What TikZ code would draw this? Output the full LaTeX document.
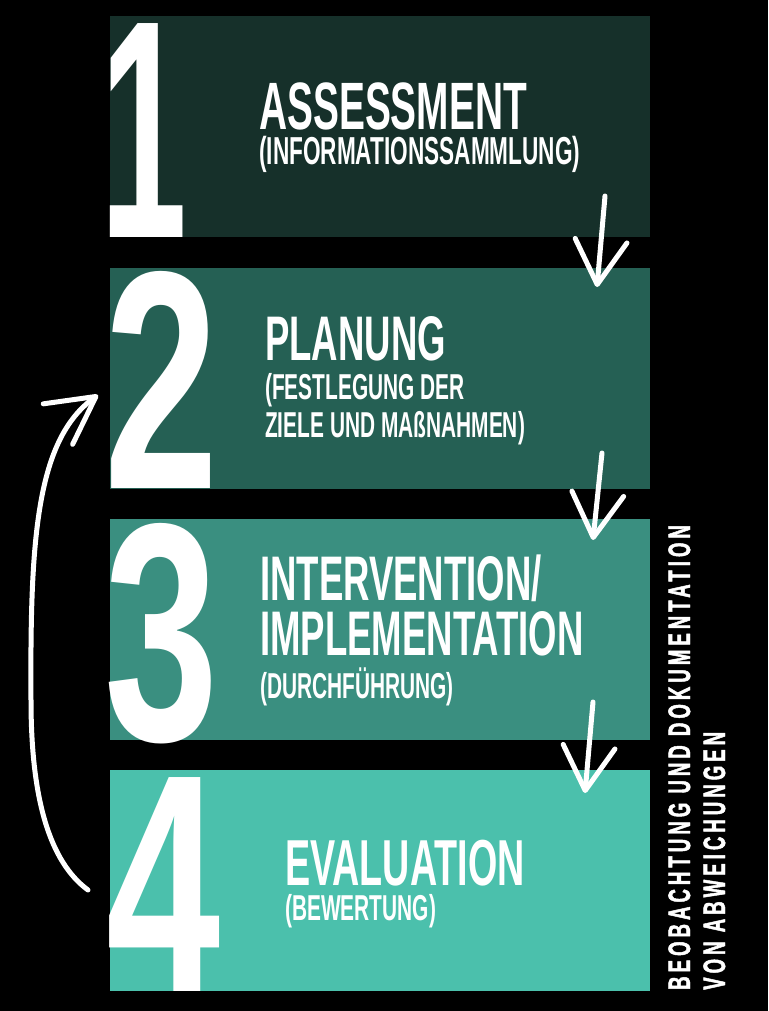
\documentclass[tikz,border=0pt]{standalone}
\usepackage{fontspec}
\usetikzlibrary{positioning, arrows.meta, calc}
\newfontfamily\headfont[FakeStretch=0.58]{Liberation Sans}
\newfontfamily\numfont[FakeStretch=0.66]{Liberation Sans}
\newfontfamily\sidefont[FakeStretch=0.6, LetterSpace=13, FakeBold=1.5]{Liberation Sans}
\definecolor{clrstep_one}{HTML}{16302A}
\definecolor{clrstep_two}{HTML}{256054}
\definecolor{clrstep_three}{HTML}{3A8F80}
\definecolor{clrstep_four}{HTML}{4BC0AC}
\definecolor{clrpaper}{HTML}{000000}
\definecolor{clrchalk}{HTML}{FFFFFF}

\begin{document}
\begin{tikzpicture}[
    x=1pt, y=-1pt,
    every node/.style={inner sep=0, text=clrchalk},
    block/.style={rectangle, minimum width=540pt, minimum height=221pt},
    bignum/.style={font=\numfont\bfseries\fontsize{311}{311}\selectfont, anchor=base west},
    headline/.style={font=\headfont\bfseries\fontsize{64}{64}\selectfont, anchor=base west},
    subline/.style={font=\headfont\bfseries\fontsize{36}{36}\selectfont, anchor=base west},
    sideline/.style={font=\sidefont\bfseries\fontsize{31}{31}\selectfont, anchor=base west, rotate=90},
    chalk/.style={draw=clrchalk, line width=5pt, line cap=round, line join=round},
    arrow/.style={chalk, -{Straight Barb[length=44pt, width=52pt, line cap=round, line join=round]}},
]
\fill[clrpaper] (0,0) rectangle (768,1011);
\useasboundingbox (0,0) rectangle (768,1011);
% steps
\node[block, fill=clrstep_one, anchor=north west] (n_1) at (110,16) {};
\node[block, fill=clrstep_two, below=30pt of n_1] (n_2) {};
\node[block, fill=clrstep_three, below=30pt of n_2] (n_3) {};
\node[block, fill=clrstep_four, below=30pt of n_3] (n_4) {};
\node[bignum] (n_1_num) at ([xshift=-10pt]n_1.south west) {\scalebox{0.76}[1]{1}};
\node[bignum] (n_2_num) at ([xshift=-6pt]n_2.south west) {2};
\node[bignum] (n_3_num) at ([xshift=-6pt]n_3.south west) {3};
\node[bignum] (n_4_num) at ([xshift=-4pt]n_4.south west) {4};
% texts
\node[headline, font=\headfont\bfseries\fontsize{67}{67}\selectfont] (n_1_title) at (259,130) {ASSESSMENT};
\node[subline, font=\headfont\bfseries\fontsize{39}{39}\selectfont] (n_1_sub) at ($(n_1_title.base west)+(0,35)$) {(INFORMATIONSSAMMLUNG)};
\node[headline, font=\headfont\bfseries\fontsize{63}{63}\selectfont] (n_2_title) at (265,360) {PLANUNG};
\node[subline] (n_2_sub) at ($(n_2_title.base west)+(0,39)$) {(FESTLEGUNG DER};
\node[subline] (n_2_sub_b) at ($(n_2_sub.base west)+(0,38)$) {ZIELE UND MAßNAHMEN)};
\node[headline, font=\headfont\bfseries\fontsize{63}{63}\selectfont] (n_3_title) at (260,600) {INTERVENTION/};
\node[headline, font=\headfont\bfseries\fontsize{63}{63}\selectfont] (n_3_title_b) at ($(n_3_title.base west)+(0,55)$) {IMPLEMENTATION};
\node[subline] (n_3_sub) at ($(n_3_title_b.base west)+(0,43)$) {(DURCHFÜHRUNG)};
\node[headline, font=\headfont\bfseries\fontsize{65}{65}\selectfont] (n_4_title) at (285,885) {EVALUATION};
\node[subline] (n_4_sub) at ($(n_4_title.base west)+(0,35)$) {(BEWERTUNG)};
\node[sideline] (n_5) at (690,990) {BEOBACHTUNG UND DOKUMENTATION};
\node[sideline] (n_5_b) at (725,990) {VON ABWEICHUNGEN};
% hand drawn arrows
\coordinate (a_1_top) at (605,196);
\coordinate (a_1_tip) at (597,287);
\coordinate (a_2_top) at (602,453);
\coordinate (a_2_tip) at (593,540);
\coordinate (a_3_top) at (593,702);
\coordinate (a_3_tip) at (585,793);
\coordinate (l_start) at (88,890);
\coordinate (l_mid) at (31,700);
\coordinate (l_tip) at (98,395);
\draw[arrow] (a_1_top) -- (a_1_tip);
\draw[arrow] (a_2_top) -- (a_2_tip);
\draw[arrow] (a_3_top) -- (a_3_tip);
\draw[arrow, -{Straight Barb[length=47pt, width=50pt, line cap=round, line join=round]}] (l_start) .. controls (50,862) and (31,800) .. (l_mid) .. controls (30,540) and (36,440) .. (l_tip);
\end{tikzpicture}
\end{document}
